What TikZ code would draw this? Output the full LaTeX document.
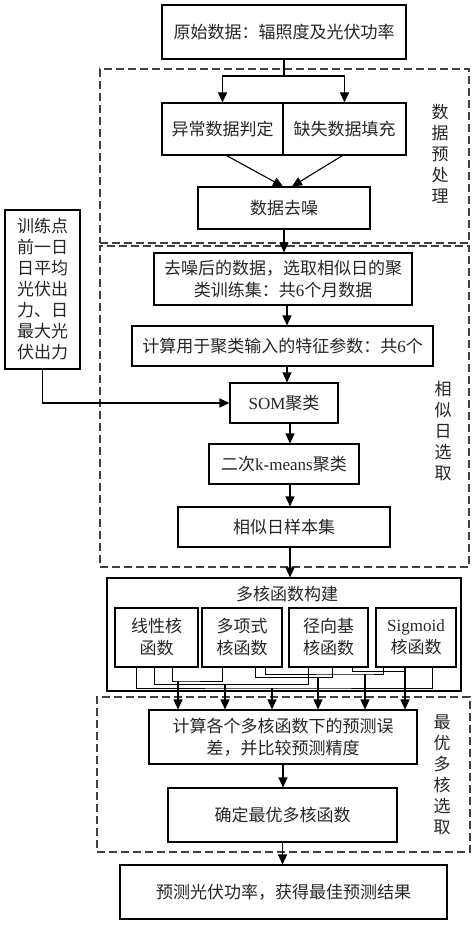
\documentclass[tikz,border=0pt]{standalone}
\usepackage{fontspec}
\setmainfont{Liberation Serif}
\newfontfamily\cjk{Noto Sans CJK SC}
\usetikzlibrary{arrows.meta,calc}
\begin{document}
\begin{tikzpicture}[x=1pt,y=-1pt,
  font=\cjk\fontsize{17}{22}\selectfont,
  box/.style={draw, line width=1.1pt, inner sep=2pt, align=center, text=black!85},
  dbox/.style={draw=black!75, line width=1.2pt, dash pattern=on 8pt off 4pt},
  arr/.style={line width=1.1pt, -{Triangle[length=10pt,width=9pt]}},
  wire/.style={line width=0.9pt},
  vlab/.style={align=center, font=\cjk\fontsize{17}{21}\selectfont, text=black!85}]
\useasboundingbox (0,0) rectangle (474,925);
\fill[white] (0,0) rectangle (474,925);

% dashed groups
\node[dbox, minimum width=369pt, minimum height=174pt] (pre) at (284.5,156) {};
\node[dbox, minimum width=369pt, minimum height=321pt] (simsel) at (284.5,406.5) {};
\node[dbox, minimum width=373pt, minimum height=155pt] (opt) at (283.5,774.5) {};

% group labels
\node[vlab] (l1) at (440,153.5) {数\\据\\预\\处\\理};
\node[vlab] (l2) at (443,431.5) {相\\似\\日\\选\\取};
\node[vlab] (l3) at (442,775) {最\\优\\多\\核\\选\\取};

% main boxes
\node[box, minimum width=244pt, minimum height=54pt] (top) at (284,32) {原始数据：辐照度及光伏功率};
\node[box, minimum width=121pt, minimum height=52pt] (abn) at (222.5,129) {异常数据判定};
\node[box, minimum width=123pt, minimum height=52pt] (miss) at (344.5,129) {缺失数据填充};
\node[box, minimum width=172pt, minimum height=42pt] (denoise) at (284,208) {数据去噪};

\node[box, minimum width=258pt, minimum height=52pt] (sel) at (283,279) {去噪后的数据，选取相似日的聚\\类训练集：共{\rmfamily 6}个月数据};
\node[box, minimum width=301pt, minimum height=40pt] (feat) at (282.5,346) {计算用于聚类输入的特征参数：共{\rmfamily 6}个};
\node[box, minimum width=108pt, minimum height=40pt] (som) at (284,403) {{\rmfamily SOM}聚类};
\node[box, minimum width=150pt, minimum height=40pt] (km) at (284,464) {二次{\rmfamily k-means}聚类};
\node[box, minimum width=212pt, minimum height=40pt] (sim) at (284,527) {相似日样本集};

\node[box, minimum width=75pt, minimum height=159pt, font=\cjk\fontsize{17}{21}\selectfont] (left) at (42.5,289.5) {训练点\\前一日\\日平均\\光伏出\\力、日\\最大光\\伏出力};

% kernel construction
\node[box, minimum width=354pt, minimum height=113pt] (kern) at (284,634.5) {};
\node[text=black!85] (ktitle) at (287,594) {多核函数构建};
\node[box, minimum width=83pt, minimum height=59pt] (k1) at (156.5,637.5) {线性核\\函数};
\node[box, minimum width=80pt, minimum height=59pt] (k2) at (242,637.5) {多项式\\核函数};
\node[box, minimum width=79pt, minimum height=59pt] (k3) at (328.5,637.5) {径向基\\核函数};
\node[box, minimum width=80pt, minimum height=59pt] (k4) at (416,637.5) {{\rmfamily Sigmoid}\\核函数};

\node[box, minimum width=268pt, minimum height=54pt] (comp) at (283,737) {计算各个多核函数下的预测误\\差，并比较预测精度};
\node[box, minimum width=229pt, minimum height=54pt] (best) at (282.5,815) {确定最优多核函数};
\node[box, minimum width=327pt, minimum height=54pt] (final) at (283.5,892) {预测光伏功率，获得最佳预测结果};

% connectors: preprocessing
\coordinate (sp) at (284,76);
\draw[line width=1.1pt] (top.south) -- (sp);
\draw[arr] (sp) -| (abn.north);
\draw[arr] (sp) -| (miss.north);
\draw[arr] ($(abn.south)+(4,0)$) -- ($(denoise.north)+(-1,0)$);
\draw[arr] ($(miss.south)+(-2,0)$) -- ($(denoise.north)+(8,0)$);
\draw[arr] (denoise.south) -- (denoise.south |- sel.north);
\draw[arr] (sel.south) ++(4,0) coordinate (c1) -- (c1 |- feat.north);
\draw[arr] (feat.south) ++(4.5,0) coordinate (c2) -- (c2 |- som.north);
\draw[arr] (som.south) ++(6,0) coordinate (c3) -- (c3 |- km.north);
\draw[arr] (km.south) ++(6,0) coordinate (c4) -- (c4 |- sim.north);
\draw[arr] (sim.south) ++(6,0) coordinate (c5) -- (c5 |- kern.north);
\draw[arr] (left.south) |- (som.west);

% kernel pair wiring
\coordinate (a1) at (178,681);
\coordinate (a2) at (225,684.5);
\coordinate (a3) at (272,688);
\coordinate (a4) at (318,677.5);
\coordinate (a5) at (365,674);
\coordinate (a6) at (405,671);
\draw[wire] ($(k1.south)+(15.5,0)$) |- (a1) -| ($(k2.south)+(-20,0)$);
\draw[wire] ($(k1.south)+(-2.5,0)$) |- (a2) -| ($(k3.south)+(-20.5,0)$);
\draw[wire] ($(k1.south)+(-20.5,0)$) |- (a3) -| ($(k4.south)+(16,0)$);
\draw[wire] ($(k2.south)+(13,0)$) |- (a4) -| ($(k3.south)+(3.5,0)$);
\draw[wire] ($(k2.south)+(23,0)$) |- (a5) -| ($(k4.south)+(-33,0)$);
\draw[wire] ($(k3.south)+(23.5,0)$) |- (a6);
\draw[arr] (a1) -- (comp.north -| a1);
\draw[arr] (a2) -- (comp.north -| a2);
\draw[arr] (a3) -- (comp.north -| a3);
\draw[arr] (a4) -- (comp.north -| a4);
\draw[arr] (a5) -- (comp.north -| a5);
\draw[arr] ($(k4.south)+(-11,0)$) -- (comp.north -| a6);

\draw[arr] (comp.south) -- (comp.south |- best.north);
\draw[arr] (best.south) -- (best.south |- final.north);
\end{tikzpicture}
\end{document}
